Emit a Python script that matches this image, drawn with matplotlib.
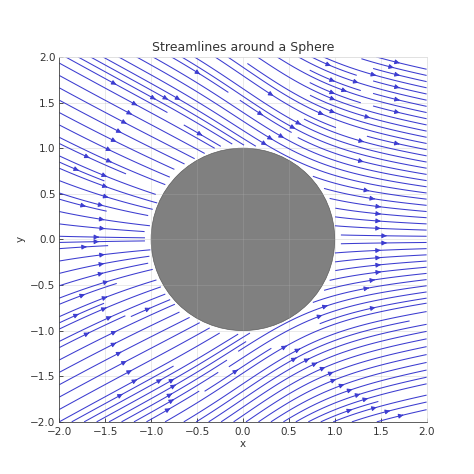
import numpy as np
import matplotlib.pyplot as plt

# ============================
# FLOW SETUP
# ============================

U_INF = 1.0        # free stream speed
R_SPHERE = 1.0     # sphere radius
X_RANGE = (-2.0, 2.0)
Y_RANGE = (-2.0, 2.0)
N_GRID = 240

# pull of the stream toward the axis
PULL_UPSTREAM = 0.56
PULL_DOWNSTREAM = 0.2
PULL_DROP_X = 0.7
PULL_DROP_WIDTH = 0.5
PULL_BUMP = 0.22      # extra pull just above / below the sphere
PULL_BUMP_X = 0.2
PULL_BUMP_WIDTH = 0.8
PULL_HEIGHT = 0.75

# ============================
# VELOCITY FIELD
# ============================

x = np.linspace(X_RANGE[0], X_RANGE[1], N_GRID)
y = np.linspace(Y_RANGE[0], Y_RANGE[1], N_GRID)
X, Y = np.meshgrid(x, y)
r = np.sqrt(X**2 + Y**2)

pull = PULL_DOWNSTREAM + (PULL_UPSTREAM - PULL_DOWNSTREAM) / (1 + np.exp((X - PULL_DROP_X) / PULL_DROP_WIDTH))
pull = pull + PULL_BUMP * np.exp(-((X - PULL_BUMP_X) / PULL_BUMP_WIDTH)**2)

u = U_INF * np.ones_like(X)
v = -U_INF * pull * np.tanh(Y / PULL_HEIGHT)

inside = r < R_SPHERE
u = np.ma.masked_where(inside, u)
v = np.ma.masked_where(inside, v)

# ============================
# PLOT
# ============================

fig, ax = plt.subplots(figsize=(6.3, 6.3), dpi=474 / 6.3)

ax.streamplot(x, y, u, v, color='#3c3cd0', linewidth=1, density=2.0, arrowsize=0.9)
ax.add_patch(plt.Circle((0, 0), R_SPHERE, facecolor='gray', edgecolor='#555555', lw=0.6, zorder=1))

ax.set_xlim(X_RANGE)
ax.set_ylim(Y_RANGE)
ax.grid(True, alpha=0.3)
ax.tick_params(direction='in', colors='#333333')
ax.tick_params(axis='x', pad=5)
for side in ['top', 'right']:
    ax.spines[side].set_color('#e0e0e0')
for side in ['left', 'bottom']:
    ax.spines[side].set_color('#444444')

ax.set_title("Streamlines around a Sphere", color='#333333')
ax.set_xlabel("x", color='#333333', labelpad=2)
ax.set_ylabel("y", color='#333333')

fig.savefig("out.png", dpi=474 / 6.3)
